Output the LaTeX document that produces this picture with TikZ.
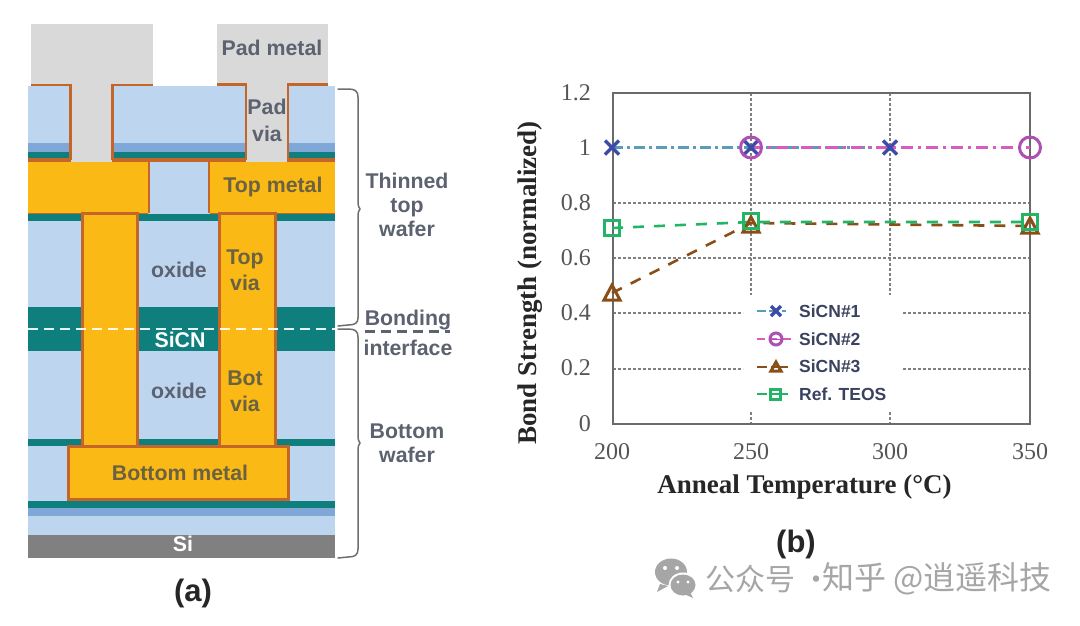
\documentclass[tikz,border=0pt]{standalone}
\usepackage{fontspec}
\setmainfont{Liberation Sans}
\newfontfamily\serifbody{Liberation Serif}
\newfontfamily\cjkfont{Noto Sans CJK SC}
\definecolor{oxidec}{HTML}{BDD5EE}
\definecolor{midblue}{HTML}{7FA8D8}
\definecolor{tealc}{HTML}{0F7F7D}
\definecolor{metalc}{HTML}{FBB916}
\definecolor{linerc}{HTML}{C4662A}
\definecolor{padc}{HTML}{D9D9D9}
\definecolor{sic}{HTML}{808080}
\definecolor{labelc}{HTML}{5C6270}
\definecolor{metaltext}{HTML}{6A6240}
\definecolor{bracec}{HTML}{6E6E6E}
\definecolor{gridc}{HTML}{808080}
\definecolor{axisc}{HTML}{6A6A6A}
\definecolor{tickc}{HTML}{555555}
\definecolor{bluel}{HTML}{5B9DB8}
\definecolor{bluem}{HTML}{3B4BA8}
\definecolor{pinkl}{HTML}{D85CC0}
\definecolor{pinkm}{HTML}{AE4FB4}
\definecolor{brownc}{HTML}{8A4E17}
\definecolor{greenc}{HTML}{22B566}
\definecolor{legtext}{HTML}{3A4260}
\definecolor{wmc}{HTML}{A6A6A6}
\tikzset{
  lab/.style={font=\fontsize{21.3}{21.3}\selectfont\bfseries, text=labelc, inner sep=0pt, align=center},
  labm/.style={lab, text=metaltext},
  labw/.style={lab, text=white},
  metalbox/.style={fill=metalc, draw=linerc, line width=3pt},
  liner/.style={draw=linerc, line width=2.8pt},
  bracepath/.style={draw=bracec, line width=1.5pt, line cap=round},
  griddot/.style={draw=gridc, line width=1.6pt, dash pattern=on 2.5pt off 2.5pt},
  tick/.style={font=\fontsize{24}{24}\selectfont\serifbody, text=tickc, inner sep=0pt},
  ticky/.style={tick, anchor=east},
  axlab/.style={font=\fontsize{27}{27}\selectfont\serifbody\bfseries, text=black!85, inner sep=0pt},
  leg/.style={font=\fontsize{17.5}{17.5}\selectfont\bfseries, text=legtext, inner sep=0pt, anchor=west},
  sera/.style={draw=bluel, line width=2.6pt, dash pattern=on 11pt off 4pt on 3pt off 4pt},
  serb/.style={draw=pinkl, line width=2.6pt, dash pattern=on 12pt off 5pt on 3pt off 5pt},
  serc/.style={draw=brownc, line width=2.6pt, dash pattern=on 11pt off 10pt},
  serd/.style={draw=greenc, line width=2.6pt, dash pattern=on 11pt off 10pt},
  mka/.style={draw=bluem, line width=3.4pt},
  mkb/.style={draw=pinkm, line width=3pt},
  mkc/.style={draw=brownc, line width=3pt},
  mkd/.style={draw=greenc, line width=3pt},
  capt/.style={font=\fontsize{31}{31}\selectfont\bfseries, text=black!85, inner sep=0pt},
  wma/.style={font=\fontsize{30}{30}\selectfont\cjkfont, text=wmc, inner sep=0pt, anchor=west},
  wmd/.style={font=\fontsize{32}{32}\selectfont\cjkfont, text=wmc, inner sep=0pt, anchor=west},
}
\newcommand\markX[3]{\draw[mka] (#1-#3,#2-#3) -- (#1+#3,#2+#3) (#1-#3,#2+#3) -- (#1+#3,#2-#3);}
\newcommand\markO[3]{\draw[mkb] (#1,#2) circle (#3);}
\newcommand\markT[3]{\draw[mkc, line join=miter] (#1,#2-#3) -- (#1+#3,#2+#3-1) -- (#1-#3,#2+#3-1) -- cycle;}
\newcommand\markS[3]{\draw[mkd] (#1-#3,#2-#3) rectangle (#1+#3,#2+#3);}
\begin{document}
\begin{tikzpicture}[x=1pt,y=-1pt]
\useasboundingbox (0,0) rectangle (1080,625);
\fill[white] (0,0) rectangle (1080,625);
% ---- cross-section
\fill[padc] (31,24) rectangle (153,85);
\fill[padc] (217,24) rectangle (328,85);
\fill[oxidec] (28,86) rectangle (335,535);
\fill[midblue] (28,143) rectangle (335,152);
\fill[tealc] (28,152) rectangle (335,158);
\fill[linerc] (28,158) rectangle (335,162);
% pad vias
\fill[padc] (71,84) rectangle (112,162);
\fill[padc] (246,84) rectangle (287,162);
\draw[liner] (31,85) -- (70.5,85) -- (70.5,160);
\draw[liner] (153,85) -- (112.5,85) -- (112.5,160);
\draw[liner] (217,84.5) -- (246,84.5) -- (246,160);
\draw[liner] (328,84.5) -- (288,84.5) -- (288,160);
% top metal
\fill[tealc] (28,214) rectangle (335,221);
\fill[metalc] (28,162) rectangle (148,213);
\fill[metalc] (210,162) rectangle (335,213);
\fill[oxidec] (150,162) rectangle (208,214);
\draw[liner] (149,161) -- (149,213);
\draw[liner] (209,161) -- (209,213);
\draw[draw=linerc, line width=1pt] (28,213.5) -- (148,213.5) (210,213.5) -- (335,213.5);
% SiCN and lower layers
\fill[tealc] (28,307) rectangle (335,351);
\fill[tealc] (28,439) rectangle (335,446);
\fill[tealc] (28,501) rectangle (335,508);
\fill[midblue] (28,508) rectangle (335,516);
\fill[sic] (28,535) rectangle (335,558);
\draw[metalbox] (68.5,446) rectangle (288,499.5);
\draw[metalbox] (82,213) rectangle (137.5,446);
\draw[metalbox] (219.5,213) rectangle (275,446);
\draw[draw=white, line width=2.2pt, dash pattern=on 10pt off 6pt, opacity=.9] (28,329) -- (335,329);
\draw[draw=labelc, line width=2.2pt, dash pattern=on 10pt off 6pt] (365,331.5) -- (450,331.5);
% braces
\draw[bracepath] (338,89) -- (348,89) .. controls (355,89) and (358,91) .. (358,97) -- (358,201) .. controls (358,206) and (359,208) .. (360,209) .. controls (359,210) and (358,212) .. (358,217) -- (358,318) .. controls (358,323) and (355,325) .. (348,325) -- (338,326);
\draw[bracepath] (338,329) -- (348,329) .. controls (355,329) and (358,331) .. (358,337) -- (358,435) .. controls (358,440) and (359,442) .. (360,443) .. controls (359,444) and (358,446) .. (358,451) -- (358,549) .. controls (358,555) and (355,557) .. (348,557) -- (338,558);
% labels (a)
\node[lab] (padmetal) at (272,48) {Pad metal};
\node[lab] (padvia) at (267,120.5) {Pad\\[5pt]via};
\node[labm] (topmetal) at (273,187) {Top metal};
\node[lab] (oxa) at (179,270) {oxide};
\node[labm] (topvia) at (245,270.5) {Top\\[5pt]via};
\node[labw] (sicn) at (180,340) {SiCN};
\node[lab] (oxb) at (179,391) {oxide};
\node[labm] (botvia) at (245,391.5) {Bot\\[5pt]via};
\node[labm] (botmetal) at (180,473) {Bottom metal};
\node[labw] (si) at (183,544) {Si};
\node[lab] (thinned) at (407,205) {Thinned\\[3pt]top\\[3pt]wafer};
\node[lab] (bonding) at (408,333) {Bonding\\[8pt]interface};
\node[lab] (bottomw) at (407,443.5) {Bottom\\[3pt]wafer};
\node[capt] (capa) at (193,593) {(a)};
% ---- chart
\draw[griddot] (613,203) -- (1030,203);
\draw[griddot] (613,258) -- (1030,258);
\draw[griddot] (613,313) -- (743,313) (903,313) -- (1030,313);
\draw[griddot] (613,369) -- (743,369) (903,369) -- (1030,369);
\draw[griddot] (751,93) -- (751,295) (751,412) -- (751,424);
\draw[griddot] (890,93) -- (890,295) (890,412) -- (890,424);
\draw[draw=axisc, line width=1.8pt] (613,93) rectangle (1030,424);
% series
\draw[sera] (612,147.5) -- (751,147.5) -- (890,147.5);
\draw[serb] (751,147.5) -- (890,147.5) -- (1030,147.5);
\draw[serc] (612,293) -- (751,223) -- (1030,226);
\draw[serd] (612,228) -- (751,222) -- (1030,222);
\markX{612}{147.5}{7}
\markX{751}{147.5}{7}
\markX{890}{147.5}{7}
\markO{751}{147.5}{10.5}
\markO{1030}{147.5}{10.5}
\markT{612}{293}{8}
\markT{751}{225}{8}
\markT{1030}{226}{8}
\markS{612}{228}{7.5}
\markS{751}{221}{7.5}
\markS{1030}{222}{7.5}
% ticks
\node[ticky] (y12) at (591,93) {1.2};
\node[ticky] (y10) at (591,148) {1};
\node[ticky] (y08) at (591,203) {0.8};
\node[ticky] (y06) at (591,258) {0.6};
\node[ticky] (y04) at (591,313) {0.4};
\node[ticky] (y02) at (591,368) {0.2};
\node[ticky] (y00) at (591,424) {0};
\node[tick] (x200) at (612,452) {200};
\node[tick] (x250) at (751,452) {250};
\node[tick] (x300) at (890,452) {300};
\node[tick] (x350) at (1030,452) {350};
\node[axlab] (xlab) at (804.5,486.5) {Anneal Temperature (°C)};
\node[axlab, rotate=90] (ylab) at (530,283) {Bond Strength (normalized)};
% legend
\draw[sera, dash pattern=on 9pt off 3pt on 9pt off 4pt on 4pt off 9pt] (757,311) -- (788,311);
\draw[serb, dash pattern=on 8pt off 6pt on 6pt off 6pt on 8pt] (757,339) -- (796,339);
\draw[serc, dash pattern=on 10pt off 4pt on 20pt] (757,367) -- (788,367);
\draw[serd, dash pattern=on 10pt off 4pt on 20pt] (757,394) -- (788,394);
\markX{776}{311}{5}
\draw[mkb] (776,339) circle (6);
\draw[mkb, line width=1pt] (770,339) -- (782,339);
\markT{776}{367}{5}
\markS{775}{394}{5}
\node[leg] (la) at (799,311) {SiCN\#1};
\node[leg] (lb) at (799,339) {SiCN\#2};
\node[leg] (lc) at (799,366) {SiCN\#3};
\node[leg] (ld) at (799,394) {Ref. TEOS};
\node[capt] (capb) at (796,544) {(b)};
% ---- watermark
\fill[wmc] (671,572) ellipse (16 and 13.5);
\fill[wmc] (660,584) -- (657,592) -- (668,586) -- cycle;
\fill[white] (683,585) ellipse (14.5 and 12.5);
\fill[wmc] (683,585) ellipse (12.5 and 10.5);
\fill[wmc] (690,592) -- (693,598) -- (684,594) -- cycle;
\fill[white] (665,568) circle (2) (677,568) circle (2) (678,582) circle (1.6) (688,582) circle (1.6);
\node[wma] (wmleft) at (705,579) {公众号 ·};
\node[wmd] (wmright) at (822,579) {知乎 @逍遥科技};
\end{tikzpicture}
\end{document}
